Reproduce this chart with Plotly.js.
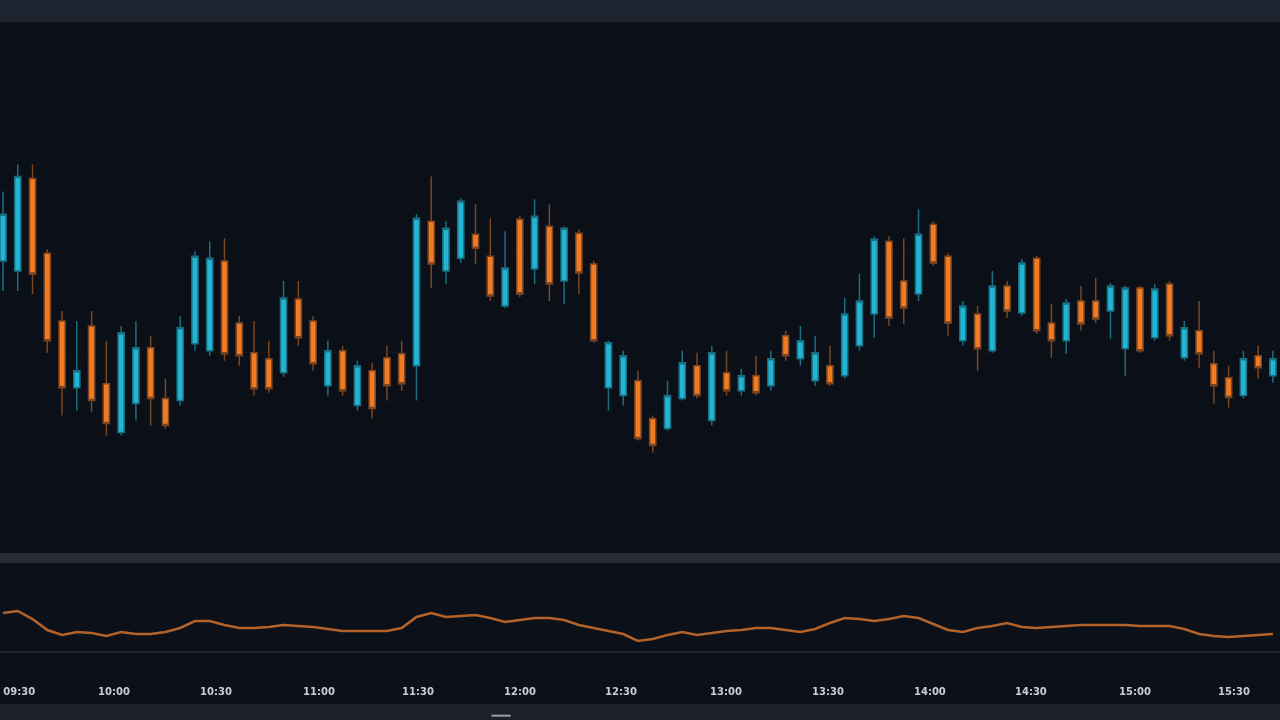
<!DOCTYPE html>
<html><head><meta charset="utf-8">
<script src="https://cdn.plot.ly/plotly-3.0.1.min.js"></script>
<style>html,body{margin:0;padding:0;background:#0a0f18;overflow:hidden}#chart{width:1280px;height:720px;filter:blur(0.4px)}</style>
</head><body><div id="chart"></div>
<script>
const candleIdx = [0,1,2,3,4,5,6,7,8,9,10,11,12,13,14,15,16,17,18,19,20,21,22,23,24,25,26,27,28,29,30,31,32,33,34,35,36,37,38,39,40,41,42,43,44,45,46,47,48,49,50,51,52,53,54,55,56,57,58,59,60,61,62,63,64,65,66,67,68,69,70,71,72,73,74,75,76,77,78,79,80,81,82,83,84,85,86];
const openVals = [129.2,128.2,137.5,130.0,123.2,116.5,122.7,116.9,112.0,114.9,
120.5,115.4,115.2,120.9,120.2,129.2,123.0,120.0,119.4,118.0,
125.4,123.2,116.7,120.2,114.7,118.2,119.5,119.9,118.7,133.2,
128.2,129.5,131.9,129.7,124.7,133.4,128.4,132.7,127.2,132.0,
128.9,116.5,115.7,117.2,113.4,112.4,115.4,118.7,113.2,118.0,
116.2,117.7,116.7,121.7,119.4,117.2,118.7,117.7,120.7,123.9,
131.2,127.2,125.9,132.9,129.7,121.2,123.9,120.2,126.7,124.0,
129.5,123.0,121.2,125.2,125.2,124.2,120.4,126.5,121.5,126.9,
119.5,122.2,118.9,117.5,115.7,119.7,117.7];
const highVals = [136.2,138.9,138.9,130.4,124.2,123.2,124.2,121.2,122.7,123.2,
121.7,117.4,123.7,130.2,131.2,131.5,123.7,123.2,121.2,127.2,
127.2,123.7,121.2,120.7,119.2,119.0,120.7,121.2,133.9,137.7,
133.2,135.5,134.9,133.5,132.2,133.7,135.4,134.9,132.7,132.4,
129.2,121.2,120.2,118.2,113.7,117.2,120.2,120.0,120.7,120.2,
118.4,119.7,120.2,122.2,122.7,121.7,120.7,125.5,127.9,131.7,
131.7,131.5,134.4,133.2,130.0,125.2,124.7,128.2,127.2,129.4,
129.7,124.9,125.4,126.7,127.5,127.0,126.7,126.7,126.9,127.2,
123.2,125.2,120.2,118.7,120.2,120.7,120.2];
const lowVals = [126.2,126.2,125.9,120.0,113.7,114.2,114.0,111.7,111.7,113.2,
112.7,112.4,114.7,120.2,119.7,119.2,118.7,115.7,116.0,117.6,
120.7,118.2,115.7,115.7,114.2,113.4,115.2,116.2,115.2,126.5,
126.9,129.0,128.9,125.2,124.5,125.6,126.9,125.2,124.9,125.9,
121.0,114.2,114.7,111.2,110.0,112.2,115.2,115.4,112.7,115.7,
115.7,115.7,116.2,119.2,118.7,116.7,116.7,117.4,120.2,121.5,
122.7,122.9,125.2,128.7,121.7,120.7,118.2,120.0,123.5,123.7,
121.9,119.5,119.9,122.2,123.0,121.4,117.7,120.0,121.2,121.2,
119.2,118.5,114.9,114.5,115.4,117.4,117.0];
const closeVals = [133.9,137.7,127.9,121.2,116.5,118.2,115.2,112.9,122.0,120.5,
115.4,112.7,122.5,129.7,129.5,119.9,119.7,116.4,116.4,125.5,
121.5,118.9,120.2,116.2,118.7,114.4,116.7,116.9,133.5,128.9,
132.5,135.2,130.5,125.7,128.5,125.9,133.7,126.9,132.5,128.0,
121.2,121.0,119.7,111.4,110.7,115.7,119.0,115.7,120.0,116.2,
117.7,116.0,119.4,119.7,121.2,120.0,116.9,123.9,125.2,131.4,
123.5,124.5,131.9,129.0,123.0,124.7,120.4,126.7,124.2,129.0,
122.2,121.2,125.0,122.9,123.4,126.7,126.5,120.2,126.4,121.7,
122.5,119.9,116.7,115.5,119.4,118.5,119.4];
const indicatorVals = [43.8,46.1,37.1,24.7,19.1,22.5,21.4,18.0,22.5,20.2,
20.2,22.5,27.0,34.8,34.8,30.3,27.0,27.0,28.1,30.3,
29.2,28.1,25.8,23.6,23.6,23.6,23.6,27.0,39.3,43.8,
39.3,40.5,41.6,38.2,33.7,36.0,38.2,38.2,36.0,30.3,
27.0,23.6,20.2,12.4,14.6,19.1,22.5,19.1,21.4,23.6,
24.7,27.0,27.0,24.7,22.5,25.8,32.6,38.2,37.1,34.8,
37.1,40.5,38.2,31.5,24.7,22.5,27.0,29.2,32.6,28.1,
27.0,28.1,29.2,30.3,30.3,30.3,30.3,29.2,29.2,29.2,
25.8,20.2,18.0,16.9,18.0,19.1,20.2];
const tickVals = [1.1,7.52,14.42,21.40,28.10,35.01,41.85,48.96,55.87,62.77,69.61,76.66,83.36];
const tickText = ['09:30','10:00','10:30','11:00','11:30','12:00','12:30','13:00','13:30','14:00','14:30','15:00','15:30'];

const traces = [
  {
    type: 'candlestick', x: candleIdx, open: openVals, high: highVals, low: lowVals, close: closeVals,
    xaxis: 'x', yaxis: 'y',
    increasing: {line: {color: '#1a6f82', width: 1.5}, fillcolor: '#22b5d3'},
    decreasing: {line: {color: '#7a4520', width: 1.5}, fillcolor: '#f07b22'},
    whiskerwidth: 0, hoverinfo: 'skip', showlegend: false
  },
  {
    type: 'scatter', mode: 'lines', x: candleIdx, y: indicatorVals,
    xaxis: 'x', yaxis: 'y2',
    line: {color: '#b3622a', width: 2.6}, hoverinfo: 'skip', showlegend: false
  }
];

const layout = {
  width: 1280, height: 720,
  margin: {l: 0, r: 0, t: 0, b: 0, pad: 0},
  paper_bgcolor: '#0b1019', plot_bgcolor: 'rgba(0,0,0,0)',
  boxgap: 0.4,
  xaxis: {
    range: [-0.203, 86.48], domain: [0, 1], anchor: 'y2',
    rangeslider: {visible: false},
    showgrid: false, zeroline: false, showline: false,
    tickmode: 'array', tickvals: tickVals, ticktext: tickText,
    ticks: '', ticklabelstandoff: 32, ticklabeloverflow: 'allow',
    tickfont: {family: 'DejaVu Sans', size: 10, color: '#c9ced6', weight: 'bold'}
  },
  yaxis: {
    domain: [0.2333, 0.9694], range: [100.0, 153.2],
    showgrid: true, gridcolor: 'rgba(255,255,255,0.02)', zeroline: false,
    showticklabels: false, showline: false, ticks: ''
  },
  yaxis2: {
    domain: [0.0944, 0.2181], range: [0, 100],
    showgrid: false, zeroline: false, showticklabels: false, showline: false, ticks: ''
  },
  shapes: [
    {type: 'rect', xref: 'paper', yref: 'paper', x0: 0, x1: 1, y0: 0.9694, y1: 1, fillcolor: '#1d2430', line: {width: 0}, layer: 'below'},
    {type: 'rect', xref: 'paper', yref: 'paper', x0: 0, x1: 1, y0: 0.2333, y1: 0.9694, fillcolor: '#0a0f18', line: {width: 0}, layer: 'below'},
    {type: 'rect', xref: 'paper', yref: 'paper', x0: 0, x1: 1, y0: 0.2181, y1: 0.2319, fillcolor: '#272d36', line: {width: 0}, layer: 'below'},
    {type: 'line', xref: 'paper', yref: 'paper', x0: 0, x1: 1, y0: 0.0944, y1: 0.0944, line: {color: '#1f252e', width: 2}, layer: 'below'},
    {type: 'rect', xref: 'paper', yref: 'paper', x0: 0, x1: 1, y0: 0, y1: 0.0222, fillcolor: '#1b2029', line: {width: 0}, layer: 'below'},
    {type: 'line', xref: 'paper', yref: 'paper', x0: 0.384, x1: 0.399, y0: 0.006, y1: 0.006, line: {color: '#9aa0a8', width: 2}, layer: 'above'}
  ]
};

Plotly.newPlot('chart', traces, layout, {displayModeBar: false, staticPlot: true});
</script>
</body></html>
